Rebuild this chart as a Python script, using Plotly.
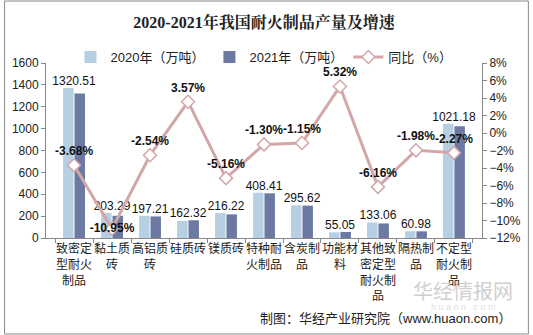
import plotly.graph_objects as go

categories = ["致密定<br>型耐火<br>制品", "黏土质<br>砖", "高铝质<br>砖", "硅质砖", "镁质砖",
              "特种耐<br>火制品", "含炭制<br>品", "功能材<br>料", "其他致<br>密定型<br>耐火制<br>品",
              "隔热制<br>品", "不定型<br>耐火制<br>品"]
v2020 = [1370.96, 228.29, 202.35, 156.73, 227.98, 413.79, 299.06, 52.27, 141.79, 62.21, 1044.90]
v2021 = [1320.51, 203.29, 197.21, 162.32, 216.22, 408.41, 295.62, 55.05, 133.06, 60.98, 1021.18]
yoy = [-3.68, -10.95, -2.54, 3.57, -5.16, -1.30, -1.15, 5.32, -6.16, -1.98, -2.27]

L, R, T, B = 43, 48, 63, 97
W, H = 533, 335
pw, ph = W - L - R, H - T - B

def px(x):
    return (x - L) / pw

def py(y):
    return (H - B - y) / ph

fig = go.Figure()
fig.add_trace(go.Bar(x=categories, y=v2020, name="2020年（万吨）", marker_color="#b7cfe3",
                     marker_line_width=0))
fig.add_trace(go.Bar(x=categories, y=v2021, name="2021年（万吨）", marker_color="#6c7aa3",
                     marker_line_width=0))
fig.add_trace(go.Scatter(x=categories, y=[max(a, b) for a, b in zip(v2020, v2021)],
                         mode="text", text=[f"{v:.2f}" for v in v2021],
                         textposition="top center", showlegend=False,
                         textfont=dict(size=12, color="#111", family="Liberation Sans, Noto Sans CJK SC")))
pos = ["top center"] * len(yoy)
pos[1] = "middle center"
fig.add_trace(go.Scatter(x=categories, y=yoy, name="同比（%）", yaxis="y2",
                         mode="lines+markers+text",
                         line=dict(color="#d3a7a9", width=3),
                         marker=dict(symbol="diamond", size=10, color="white",
                                     line=dict(color="#d3a7a9", width=1.5)),
                         text=[f"<b>{v:.2f}%</b>" for v in yoy], textposition=pos,
                         textfont=dict(size=12, color="#111", family="Liberation Sans, Noto Sans CJK SC")))

fig.update_layout(
    width=W, height=H, margin=dict(l=L, r=R, t=T, b=B),
    paper_bgcolor="white", plot_bgcolor="white",
    font=dict(family="Liberation Sans, Noto Sans CJK SC", size=12, color="#222"),
    barmode="group", bargap=0.4, bargroupgap=0.08,
    title=dict(text="<b>2020-2021年我国耐火制品产量及增速</b>", x=0.5, xref="paper",
               xanchor="center", y=1 - 22 / H, yanchor="middle",
               font=dict(family="Liberation Serif, Noto Serif CJK SC, Noto Sans CJK SC", size=16, color="#222")),
    legend=dict(orientation="h", x=0.5, xanchor="center", y=py(57), yanchor="middle",
                font=dict(size=13), bgcolor="rgba(0,0,0,0)", itemwidth=30, traceorder="normal"),
    xaxis=dict(showline=True, linecolor="#888", ticks="outside", tickson="boundaries",
               ticklen=4, tickcolor="#888", tickfont=dict(size=12, color="#222"), tickangle=0),
    yaxis=dict(range=[0, 1600], dtick=200, showgrid=False, showline=True, linecolor="#888",
               ticks="outside", ticklen=4, tickcolor="#888", zeroline=False,
               tickfont=dict(size=12)),
    yaxis2=dict(range=[-12, 8], dtick=2, overlaying="y", side="right", showgrid=False,
                showline=True, linecolor="#888", ticks="outside", ticklen=4, tickcolor="#888",
                ticksuffix="%", zeroline=False, tickfont=dict(size=12)),
    shapes=[dict(type="rect", xref="paper", yref="paper", x0=px(1), x1=px(532), y0=py(334), y1=py(1),
                 line=dict(color="#888", width=1), fillcolor="rgba(0,0,0,0)", layer="below")],
    annotations=[
        dict(text="华经情报网", xref="paper", yref="paper", x=px(466), y=py(290), showarrow=False,
             font=dict(size=20, color="#d0d0d0", family="Noto Sans CJK SC"), xanchor="center", yanchor="middle"),
        dict(text="h u a o n . c o m", xref="paper", yref="paper", x=px(466), y=py(307), showarrow=False,
             font=dict(size=9, color="#e0e0e0"), xanchor="center", yanchor="middle"),
        dict(text="制图：华经产业研究院（www.huaon.com）", xref="paper", yref="paper", x=px(516), y=py(318),
             showarrow=False, font=dict(size=13, color="#222"), xanchor="right", yanchor="middle"),
    ],
)
fig.write_html("out.html")
